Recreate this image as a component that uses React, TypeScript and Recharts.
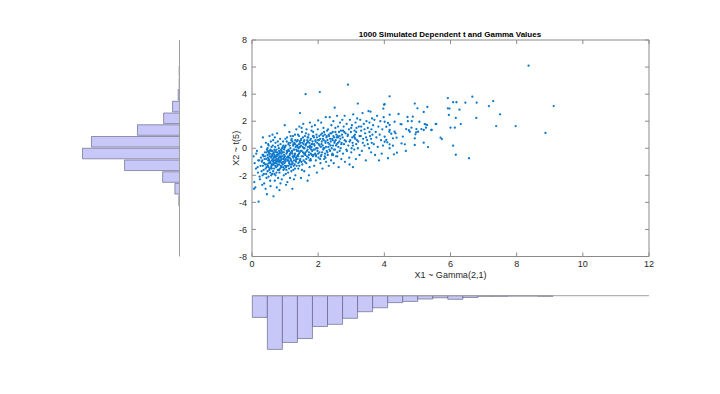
import React from 'react'
import {
  ScatterChart,
  Scatter,
  XAxis,
  YAxis,
  BarChart,
  Bar,
  ReferenceLine,
} from 'recharts'

const TITLE = '1000 Simulated Dependent t and Gamma Values'
const X_TICKS = [0, 2, 4, 6, 8, 10, 12]
const Y_TICKS = [-8, -6, -4, -2, 0, 2, 4, 6, 8]

// (X1, X2) pairs, dense part (X1 < 2)
const pointsLow: [number, number][] = [
  [0.05,-0.6],[0.08,-1.1],[0.1,-2.9],[0.12,-1.5],[0.15,-0.2],[0.18,-1.8],[0.2,-3.95],[0.22,-0.9],[0.24,-2.3],[0.26,-1.3],
  [0.28,0.1],[0.3,-1.0],[0.32,-2.0],[0.34,-0.5],[0.35,-1.6],[0.37,-2.6],[0.38,-0.8],[0.4,-1.2],[0.41,-3.0],[0.42,0.4],
  [0.43,-1.9],[0.44,-0.3],[0.07,-2.5],[0.13,-0.4],[0.17,-1.4],[0.27,-0.7],[0.31,-2.7],[0.36,-1.1],[0.45,-3.4],[0.45,-0.1],
  [0.06,-3.0],[0.19,-0.9],[0.23,-2.1],[0.29,-1.7],[0.33,0.8],[0.44,-1.4],
  [0.47,-0.5],[0.48,-1.3],[0.49,0.3],[0.5,-2.1],[0.51,-0.8],[0.52,-1.6],[0.53,0.9],[0.54,-0.2],[0.55,-1.0],[0.56,-2.8],
  [0.57,-0.6],[0.58,-1.4],[0.59,0.1],[0.6,-0.9],[0.61,-1.9],[0.62,-0.4],[0.63,-1.2],[0.64,0.6],[0.65,-3.55],[0.66,-0.7],
  [0.67,-1.5],[0.68,-0.1],[0.69,-2.4],[0.7,-0.9],[0.71,0.4],[0.72,-1.1],[0.73,-0.3],[0.74,-1.8],[0.75,-0.6],[0.76,1.1],
  [0.77,-1.3],[0.78,-0.5],[0.79,-2.2],[0.8,-0.8],[0.81,0.0],[0.82,-1.6],[0.83,-0.4],[0.84,-1.0],[0.85,0.7],[0.86,-2.6],
  [0.87,-0.7],[0.88,-1.4],[0.89,-0.2],[0.9,-1.1],
  [0.47,-1.7],[0.49,-0.9],[0.5,0.2],[0.52,-0.4],[0.54,-1.5],[0.56,-0.1],[0.58,-2.0],[0.6,-0.6],[0.62,1.0],[0.63,-0.8],
  [0.65,-1.2],[0.66,-0.3],[0.68,-1.9],[0.7,0.1],[0.71,-0.7],[0.73,-1.4],[0.75,-2.9],[0.76,-0.5],[0.78,0.5],[0.79,-1.0],
  [0.8,-1.6],[0.82,-0.2],[0.83,-3.1],[0.84,-0.9],[0.86,0.3],[0.87,-1.3],[0.88,-0.6],[0.9,-2.3],[0.91,0.0],
  [0.48,-0.2],[0.51,-1.1],[0.53,-0.6],[0.55,-2.4],[0.57,0.5],[0.59,-1.3],[0.61,-0.5],[0.64,-1.0],[0.67,-0.6],[0.69,0.8],
  [0.72,-0.9],[0.74,-0.1],[0.77,-1.2],[0.81,-0.7],[0.85,-1.5],[0.89,-0.4],
  [0.92,-0.3],[0.93,-1.2],[0.94,0.5],[0.95,-0.8],[0.96,-2.0],[0.97,-0.1],[0.98,-1.5],[0.99,1.7],[1.0,-0.6],[1.01,-1.0],
  [1.02,0.2],[1.03,-2.7],[1.04,-0.4],[1.05,-1.3],[1.06,0.8],[1.07,-0.9],[1.08,-0.2],[1.09,-1.8],[1.1,0.3],[1.11,-0.7],
  [1.12,-1.1],[1.13,1.2],[1.14,-0.5],[1.15,-2.2],[1.16,0.0],[1.17,-0.8],[1.18,-1.4],[1.19,0.6],[1.2,-0.3],[1.21,-1.0],
  [1.22,-3.0],[1.23,-0.6],[1.24,0.9],[1.25,-1.6],[1.26,-0.1],[1.27,-0.9],[1.28,0.4],[1.29,-1.2],[1.3,-0.4],[1.31,-2.0],
  [1.32,0.1],[1.33,-0.7],[1.34,1.4],[1.35,-1.3],[1.36,-0.2],
  [0.93,0.1],[0.95,-1.6],[0.97,-0.5],[0.99,-0.9],[1.01,0.7],[1.03,-1.4],[1.05,-0.2],[1.07,-2.5],[1.09,-0.6],[1.11,0.4],
  [1.13,-1.0],[1.15,-0.4],[1.17,0.9],[1.19,-1.7],[1.21,-0.2],[1.23,-1.1],[1.25,0.3],[1.27,-2.3],[1.29,-0.5],[1.31,0.6],
  [1.33,-1.0],[1.35,0.2],
  [0.94,-1.0],[0.98,0.0],[1.02,-1.9],[1.06,-0.7],[1.1,-1.3],[1.14,0.2],[1.18,-0.9],[1.22,0.5],[1.26,-0.6],[1.3,1.0],[1.34,-0.8],
  [1.37,0.2],[1.38,-0.8],[1.39,1.0],[1.4,-1.5],[1.41,0.0],[1.42,-0.4],[1.43,1.6],[1.44,-1.0],[1.45,2.6],[1.46,0.4],
  [1.47,-0.2],[1.48,-2.2],[1.49,0.7],[1.5,-0.6],[1.51,1.2],[1.52,-1.2],[1.53,0.1],[1.54,-0.3],[1.55,1.8],[1.56,-0.9],
  [1.57,0.5],[1.58,-1.7],[1.59,0.0],[1.6,0.9],[1.61,-0.5],[1.62,4.0],[1.63,0.3],[1.64,-1.1],[1.65,1.4],[1.66,-0.2],
  [1.67,0.6],[1.68,-2.4],[1.69,0.1],[1.7,-0.7],[1.71,1.0],[1.72,-0.3],[1.73,0.4],[1.74,-1.4],[1.75,1.9],[1.76,0.0],
  [1.77,-0.8],[1.78,0.7],[1.79,-0.1],[1.8,1.3],[1.81,-0.5],[1.82,0.3],
  [1.38,0.6],[1.4,-0.2],[1.42,0.9],[1.45,-0.9],[1.48,0.2],[1.51,-1.6],[1.54,0.8],[1.57,-0.4],[1.6,-1.0],[1.63,1.1],
  [1.66,-0.6],[1.69,0.5],[1.72,-2.0],[1.75,0.2],[1.78,-0.4],[1.81,1.6],
  [1.39,-0.5],[1.44,0.5],[1.5,1.5],[1.56,0.3],[1.62,-0.3],[1.68,0.8],[1.74,-0.9],[1.8,0.1],[1.43,-1.3],
  [1.83,0.5],[1.84,-0.6],[1.85,1.2],[1.86,-0.1],[1.87,0.8],[1.88,-1.3],[1.89,0.2],[1.9,1.7],[1.91,-0.4],[1.92,0.6],
  [1.93,-0.9],[1.94,0.0],[1.95,1.0],[1.96,-1.8],[1.97,0.4],[1.98,-0.2],[1.99,1.4],[1.86,0.9],[1.93,-0.5],
]

// more of the crowded core (0.3 < X1 < 3.6)
const pointsCore: [number, number][] = [
  [0.31,-0.9],[0.33,-1.3],[0.35,-0.6],[0.37,-1.1],[0.39,-0.3],[0.41,-1.5],[0.43,-0.8],[0.46,-1.2],[0.48,-0.7],[0.5,-1.4],
  [0.52,-0.9],[0.54,-0.4],[0.56,-1.1],[0.58,-0.7],[0.6,-1.5],[0.62,-0.2],[0.64,-1.7],[0.66,-0.9],[0.68,-0.5],[0.7,-1.3],
  [0.72,-0.6],[0.74,-1.0],[0.76,-0.3],[0.78,-1.6],[0.8,-0.4],[0.82,-1.2],[0.84,-0.6],[0.86,-1.0],[0.88,-0.1],[0.9,-0.8],
  [0.32,-0.5],[0.36,-1.9],[0.4,-0.6],[0.44,-2.2],[0.47,0.0],[0.51,-0.3],[0.55,-1.8],[0.59,-0.2],[0.63,0.2],[0.67,-1.1],
  [0.71,-2.0],[0.75,-0.8],[0.79,0.2],[0.83,-1.8],[0.87,-0.9],[0.6,-1.2],[0.65,-0.4],[0.7,-0.2],[0.78,-0.9],[0.85,-0.3],
  [0.92,-0.6],[0.94,-1.4],[0.96,-0.3],[0.98,-1.1],[1.0,0.1],[1.02,-0.8],[1.04,-1.6],[1.06,-0.3],[1.08,-0.9],[1.1,-0.1],
  [1.12,-1.5],[1.14,-0.7],[1.16,0.4],[1.18,-0.3],[1.2,-1.2],[1.22,-0.4],[1.24,0.2],[1.26,-1.3],[1.28,-0.6],[1.3,0.3],
  [1.32,-0.9],[1.34,-0.1],[1.36,-0.6],[1.38,0.1],[1.4,-1.1],[1.42,0.3],[1.44,-0.3],[1.46,-0.8],[1.48,0.6],[1.5,-0.2],
  [0.95,0.2],[1.0,-1.3],[1.05,0.5],[1.1,-0.9],[1.15,-1.2],[1.2,0.7],[1.25,-0.7],[1.3,-1.5],[1.35,0.5],[1.4,-0.6],
  [1.45,0.1],[1.5,-1.0],[0.97,-0.7],[1.12,-0.2],[1.28,-0.1],
  [1.52,0.4],[1.54,-0.6],[1.56,0.0],[1.58,0.6],[1.6,-0.4],[1.62,0.2],[1.64,-0.8],[1.66,0.4],[1.68,-0.1],[1.7,0.8],
  [1.72,-0.5],[1.74,0.1],[1.76,0.6],[1.78,-0.9],[1.8,0.3],[1.82,-0.2],[1.84,0.9],[1.86,-0.5],[1.88,0.3],[1.9,-0.1],
  [1.92,0.5],[1.94,-0.6],[1.96,0.8],[1.98,0.0],[2.0,-0.4],[2.02,0.6],[2.04,0.2],[2.06,-0.8],[2.08,1.0],[2.1,0.3],
  [2.12,-0.3],[2.14,0.7],[2.16,0.0],[2.18,1.2],[2.2,-0.6],[2.22,0.5],[2.24,0.1],[2.26,0.9],[2.28,-0.3],[2.3,0.4],
  [2.32,1.0],[2.34,-0.1],[2.36,0.7],[2.38,0.2],[2.4,1.1],[2.42,-0.5],[2.44,0.6],[2.46,0.9],[2.48,-0.1],[2.5,0.5],
  [2.52,1.2],[2.54,0.2],[2.56,0.8],[2.58,-0.6],[2.6,0.4],
  [2.65,0.9],[2.7,0.3],[2.75,1.3],[2.8,0.6],[2.85,-0.1],[2.9,1.0],[2.95,0.5],[3.0,1.5],[3.05,0.2],[3.1,0.8],
  [3.15,1.2],[3.2,0.0],[3.25,0.9],[3.3,1.6],[3.35,0.4],[3.4,1.4],[3.45,0.8],[3.5,0.3],[3.55,1.2],[3.6,0.7],
]

// 2 <= X1 < 4
const pointsMid: [number, number][] = [
  [2.0,2.05],[2.01,-0.7],[2.02,0.3],[2.03,0.9],[2.04,-0.3],[2.05,4.15],[2.06,0.7],[2.07,-1.1],[2.08,0.1],[2.09,1.9],
  [2.1,-0.5],[2.11,0.5],[2.12,1.1],[2.13,-1.5],[2.14,0.2],[2.15,-0.1],[2.16,1.5],[2.17,0.6],[2.18,-0.8],[2.19,0.0],
  [2.2,1.0],[2.21,-0.4],[2.22,0.4],[2.23,2.3],[2.24,-1.0],[2.25,0.8],[2.26,-0.2],[2.27,1.3],
  [2.0,0.6],[2.08,-0.6],[2.15,0.9],[2.22,-0.7],
  [2.28,0.6],[2.29,-0.5],[2.3,1.4],[2.31,0.1],[2.32,-1.3],[2.33,0.9],[2.34,0.3],[2.35,2.3],[2.36,-0.2],[2.37,1.1],
  [2.38,0.5],[2.39,-0.9],[2.4,1.7],[2.41,0.0],[2.42,0.7],[2.43,-0.4],[2.44,1.2],[2.45,0.2],[2.46,2.0],[2.47,-1.1],
  [2.48,0.8],[2.49,0.4],[2.5,3.0],[2.51,-0.1],[2.52,1.5],[2.53,0.6],[2.54,-0.6],[2.55,1.0],[2.56,0.3],[2.57,2.4],
  [2.58,-0.3],[2.59,0.9],[2.6,1.6],[2.61,0.1],[2.62,-1.4],[2.63,1.2],[2.64,0.5],[2.65,-0.2],[2.66,1.9],[2.67,0.7],
  [2.68,0.0],[2.69,1.3],[2.7,-0.8],[2.71,0.4],[2.72,1.0],[2.73,2.1],[2.45,-0.5],[2.6,0.8],
  [2.74,0.8],[2.75,-0.4],[2.77,1.6],[2.78,0.3],[2.8,2.4],[2.81,-1.0],[2.83,1.1],[2.84,0.5],[2.86,1.8],[2.87,-0.2],
  [2.89,0.9],[2.9,4.7],[2.91,0.2],[2.93,1.4],[2.94,-0.7],[2.96,2.1],[2.97,0.6],[2.99,1.2],[3.0,-0.3],[3.01,0.0],
  [3.02,1.7],[3.04,0.4],[3.05,-1.4],[3.06,2.5],[3.08,0.9],[3.09,-0.1],[3.1,1.3],[3.12,0.7],[3.13,1.9],[3.14,-0.8],
  [3.15,0.3],[3.16,1.5],[3.17,0.6],[3.18,2.2],[2.79,1.2],[2.95,-1.2],[3.03,0.8],[3.11,1.0],
  [3.2,3.3],[3.21,0.5],[3.23,1.6],[3.25,-0.5],[3.27,2.1],[3.29,0.9],[3.3,1.3],[3.32,-0.2],[3.34,2.6],[3.36,0.7],
  [3.38,1.8],[3.4,0.2],[3.42,1.1],[3.44,-0.9],[3.46,2.0],[3.48,0.6],[3.5,1.5],[3.52,2.75],[3.54,0.0],[3.55,1.9],
  [3.57,0.9],[3.58,2.7],[3.6,-0.3],[3.61,1.4],[3.62,0.4],[3.63,2.2],[3.64,1.0],
  [3.66,1.7],[3.68,0.3],[3.7,2.1],[3.72,-0.5],[3.74,1.2],[3.76,0.8],[3.78,2.4],[3.8,0.1],[3.82,1.6],[3.84,-0.9],
  [3.86,1.0],[3.88,2.0],[3.9,0.6],[3.92,-0.4],[3.94,1.4],[3.96,0.2],[3.97,2.93],[3.99,3.22],[3.98,2.29],
]

// X1 >= 4, the sparse tail
const pointsTail: [number, number][] = [
  [4.01,3.25],[4.16,3.84],[4.16,2.48],[4.43,2.53],[4.86,2.33],[4.7,2.31],[4.92,3.3],[5.0,2.95],[5.3,3.05],[5.19,2.68],
  [5.92,3.71],[5.92,2.95],[5.97,2.93],[6.27,2.85],[6.08,3.4],[6.18,3.4],[6.45,3.37],[6.66,3.81],[6.79,3.37],[5.95,2.46],
  [6.16,2.24],[6.78,2.24],[4.01,1.96],[4.11,1.87],[4.16,1.72],[4.31,1.96],[4.49,1.79],[5.06,1.96],[5.22,1.79],[5.29,1.72],
  [5.26,1.52],[5.55,1.79],[6.31,1.79],[6.0,1.52],[6.13,1.52],[5.42,1.35],[5.19,1.35],[5.12,1.42],[5.02,1.22],[4.96,1.18],
  [4.94,1.03],[4.82,1.52],[4.74,1.33],[4.77,1.22],[4.66,1.42],[4.31,1.22],[4.34,1.1],[4.16,1.35],[4.15,1.22],[4.21,1.07],
  [4.06,1.59],[4.01,0.85],[4.06,0.61],[4.26,0.73],[4.37,0.78],[4.52,0.36],[4.62,0.29],[4.92,0.73],[4.92,0.24],[5.19,0.41],
  [5.32,0.09],[5.7,0.78],[5.74,0.68],[6.08,0.19],[6.16,-0.48],[6.56,-0.74],[4.01,0.48],[4.09,0.44],[4.16,0.29],[4.16,0.0],
  [4.26,0.19],[4.29,-0.45],[4.38,-0.33],[4.65,-0.2],[4.11,-0.74],[4.52,1.77],[4.56,0.86],[4.71,2.0],[4.83,2.0],[4.97,1.42],
  [5.24,1.77],[5.57,1.8],[5.43,1.35],
  [8.36,6.1],[7.29,3.49],[7.16,3.12],[9.12,3.12],[7.5,2.51],[7.38,1.64],[7.97,1.64],[8.87,1.13],
]

// histogram of X1 (bottom): 20 bins starting at X1 = 0
const gammaCounts = [72, 178, 155, 142, 102, 95, 75, 53, 40, 23, 19, 11, 7, 12, 6, 2, 2, 1, 1, 2]
const GAMMA_START = 0.01
const GAMMA_WIDTH = 0.4545
// histogram of X2 (left): 12 bins listed from the top edge downwards
const tCounts = [1, 1, 4, 21, 48, 127, 266, 293, 166, 51, 14, 2]
const T_TOP = 6.15
const T_WIDTH = 0.868

const W = 720
const H = 394
const AXIS = '#8a8a8a'
const TEXT = '#262626'
const DOT = '#0b78cc'
const BAR_FILL = '#c8c8f8'
const BAR_EDGE = '#55557a'
const FONT = '"Liberation Sans", Arial, sans-serif'

const scatterData = [...pointsLow, ...pointsCore, ...pointsMid, ...pointsTail].map(([x, y]) => ({ x, y }))
const gammaData = gammaCounts.map((count, i) => ({ center: GAMMA_START + (i + 0.5) * GAMMA_WIDTH, count }))
const tData = tCounts.map((count, i) => ({ center: T_TOP - (i + 0.5) * T_WIDTH, count }))

const Dot = (props: any) => <circle cx={props.cx} cy={props.cy} r={1.15} fill={DOT} />

export default function App() {
  const layer: React.CSSProperties = { position: 'absolute', left: 0, top: 0 }
  return (
    <div style={{ position: 'absolute', left: 0, top: 0, width: W, height: H, background: '#fff', fontFamily: FONT }}>
      <div
        style={{
          position: 'absolute', left: 300, width: 300, top: 28.5, textAlign: 'center',
          fontSize: 8, fontWeight: 'bold', color: '#000', lineHeight: '11px',
        }}
      >
        {TITLE}
      </div>

      <div style={layer}>
        <ScatterChart width={W} height={H} margin={{ top: 40, right: 71, bottom: 107.5, left: 222 }}>
          <XAxis
            type="number" dataKey="x" domain={[0, 12]} ticks={X_TICKS} height={30}
            tickSize={0} tickLine={false} tickMargin={4} stroke={AXIS} tick={{ fill: TEXT, fontSize: 9 }}
            label={{ value: 'X1 ~ Gamma(2,1)', position: 'center', dy: 3, fill: TEXT, fontSize: 9 }}
          />
          <YAxis
            type="number" dataKey="y" domain={[-8, 8]} ticks={Y_TICKS} width={30}
            tickSize={0} tickLine={false} tickMargin={5} stroke={AXIS} tick={{ fill: TEXT, fontSize: 9 }}
            label={{ value: 'X2 ~ t(5)', angle: -90, position: 'center', dx: -1, fill: TEXT, fontSize: 9 }}
          />
          <ReferenceLine y={8} stroke={AXIS} />
          <ReferenceLine x={12} stroke={AXIS} />
          {X_TICKS.map((t) => (
            <ReferenceLine key={`xb${t}`} segment={[{ x: t, y: -8 }, { x: t, y: -7.7 }]} stroke={AXIS} />
          ))}
          {X_TICKS.map((t) => (
            <ReferenceLine key={`xt${t}`} segment={[{ x: t, y: 8 }, { x: t, y: 7.7 }]} stroke={AXIS} />
          ))}
          {Y_TICKS.map((t) => (
            <ReferenceLine key={`yl${t}`} segment={[{ x: 0, y: t }, { x: 0.12, y: t }]} stroke={AXIS} />
          ))}
          {Y_TICKS.map((t) => (
            <ReferenceLine key={`yr${t}`} segment={[{ x: 12, y: t }, { x: 11.88, y: t }]} stroke={AXIS} />
          ))}
          <Scatter data={scatterData} shape={Dot} isAnimationActive={false} />
        </ScatterChart>
      </div>

      <div style={layer}>
        <BarChart width={W} height={H} data={gammaData} margin={{ top: 295.7, right: 71, bottom: 44, left: 252 }}>
          <XAxis type="number" dataKey="center" domain={[0, 12]} hide />
          <YAxis type="number" domain={[0, 180]} reversed hide />
          <ReferenceLine y={0} stroke="#a0a0a0" />
          <Bar
            dataKey="count" barSize={15.03} fill={BAR_FILL} stroke={BAR_EDGE} strokeWidth={0.6}
            isAnimationActive={false}
          />
        </BarChart>
      </div>

      <div style={layer}>
        <BarChart
          width={W} height={H} data={tData} layout="vertical"
          margin={{ top: 40, right: 540.5, bottom: 137.5, left: 80.2 }}
        >
          <XAxis type="number" domain={[0, 300]} reversed hide />
          <YAxis type="number" dataKey="center" domain={[-8, 8]} reversed hide />
          <ReferenceLine x={0} stroke="#a0a0a0" />
          <Bar
            dataKey="count" barSize={11.75} fill={BAR_FILL} stroke={BAR_EDGE} strokeWidth={0.6}
            isAnimationActive={false}
          />
        </BarChart>
      </div>
    </div>
  )
}
